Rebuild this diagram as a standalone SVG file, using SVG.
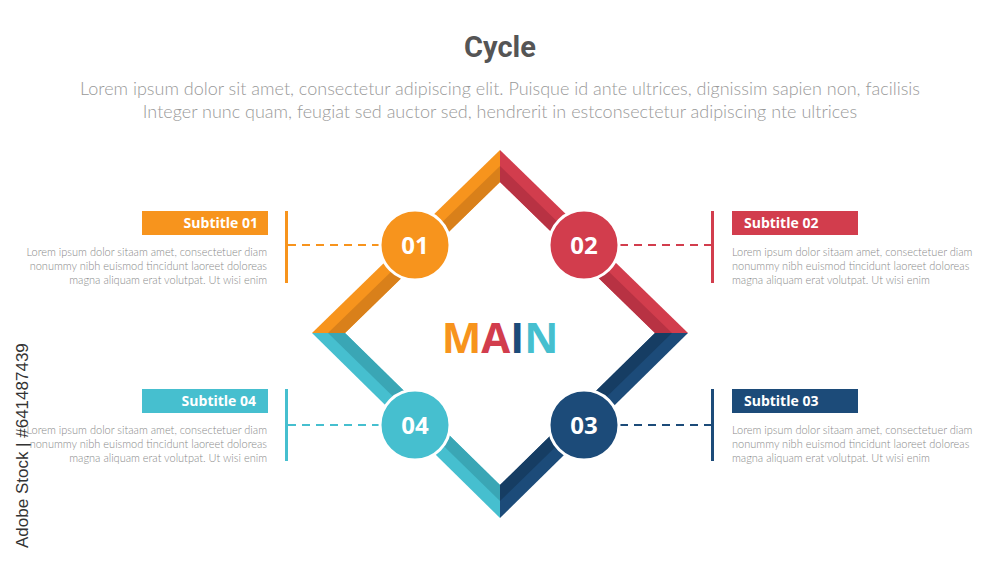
<svg xmlns="http://www.w3.org/2000/svg" width="1000" height="563" viewBox="0 0 1000 563">
<style>
.t{font-family:Lato,"Liberation Sans",sans-serif;font-weight:300}
.body{font-family:Lato,"Liberation Sans",sans-serif;font-weight:300;font-size:11px;fill:#8a8a8a}
.sub{font-family:"Open Sans","Liberation Sans",sans-serif;font-size:14px;font-weight:bold;fill:#fff}
.num{font-family:"Open Sans","Liberation Sans",sans-serif;font-size:24px;font-weight:bold;fill:#fff;text-anchor:middle}
.dash{stroke-width:2;stroke-dasharray:8 6}
</style>
<rect width="1000" height="563" fill="#fff"/>
<text x="500" y="57" text-anchor="middle" font-family="Roboto,'Liberation Sans',sans-serif" font-weight="bold" font-size="29" fill="#555">Cycle</text>
<text class="t" x="500" y="95" text-anchor="middle" font-size="18" fill="#999">Lorem ipsum dolor sit amet, consectetur adipiscing elit. Puisque id ante ultrices, dignissim sapien non, facilisis</text>
<text class="t" x="500" y="118" text-anchor="middle" font-size="18" fill="#999">Integer nunc quam, feugiat sed auctor sed, hendrerit in estconsectetur adipiscing nte ultrices</text>
<text transform="translate(28,548) rotate(-90)" font-family="'Liberation Sans',sans-serif" font-size="17" fill="#333">Adobe Stock | #641487439</text>
<g id="diamond">
<polygon points="312,333 500,150 500,182 345,333" fill="#F7941D"/>
<polygon points="328,333 500,166 500,182 345,333" fill="#D9801A"/>
<polygon points="500,150 688,333 655,333 500,182" fill="#D23D4D"/>
<polygon points="500,166 672,333 655,333 500,182" fill="#B83243"/>
<polygon points="312,333 345,333 500,485 500,518" fill="#46BFCF"/>
<polygon points="328,333 345,333 500,485 500,501" fill="#3AA6B5"/>
<polygon points="688,333 500,518 500,485 655,333" fill="#1C4B79"/>
<polygon points="672,333 500,501 500,485 655,333" fill="#163D63"/>
</g>
<g id="connectors">
<line class="dash" x1="288" y1="245" x2="380" y2="245" stroke="#F7941D"/>
<line class="dash" x1="620" y1="245" x2="712" y2="245" stroke="#D23D4D"/>
<line class="dash" x1="288" y1="425" x2="380" y2="425" stroke="#46BFCF"/>
<line class="dash" x1="620" y1="425" x2="712" y2="425" stroke="#1C4B79"/>
</g>
<g id="node-main"><text x="500" y="353" text-anchor="middle" font-family="'Open Sans','Liberation Sans',sans-serif" font-weight="bold" font-size="42"><tspan fill="#F7941D">M</tspan><tspan fill="#D23D4D">A</tspan><tspan fill="#1C4B79">I</tspan><tspan fill="#46BFCF">N</tspan></text></g>
<g id="node-01">
<circle cx="415" cy="245" r="35" fill="#F7941D" stroke="#fff" stroke-width="3"/><text class="num" x="415" y="254">01</text>
<rect x="285" y="211" width="3" height="72" fill="#F7941D"/>
<rect x="142" y="211" width="126" height="24" fill="#F7941D"/><text class="sub" x="258" y="228" text-anchor="end">Subtitle 01</text>
<text class="body" text-anchor="end"><tspan x="267" y="256">Lorem ipsum dolor sitaam amet, consectetuer diam</tspan><tspan x="267" y="270">nonummy  nibh euismod tincidunt laoreet doloreas</tspan><tspan x="267" y="284">magna aliquam erat volutpat. Ut wisi enim</tspan></text>
</g>
<g id="node-02">
<circle cx="584" cy="245" r="35" fill="#D23D4D" stroke="#fff" stroke-width="3"/><text class="num" x="584" y="254">02</text>
<rect x="711" y="211" width="3" height="72" fill="#D23D4D"/>
<rect x="732" y="211" width="126" height="24" fill="#D23D4D"/><text class="sub" x="744" y="228">Subtitle 02</text>
<text class="body"><tspan x="732" y="256">Lorem ipsum dolor sitaam amet, consectetuer diam</tspan><tspan x="732" y="270">nonummy  nibh euismod tincidunt laoreet doloreas</tspan><tspan x="732" y="284">magna aliquam erat volutpat. Ut wisi enim</tspan></text>
</g>
<g id="node-03">
<circle cx="584" cy="425" r="35" fill="#1C4B79" stroke="#fff" stroke-width="3"/><text class="num" x="584" y="434">03</text>
<rect x="711" y="389" width="3" height="72" fill="#1C4B79"/>
<rect x="732" y="389" width="126" height="24" fill="#1C4B79"/><text class="sub" x="744" y="406">Subtitle 03</text>
<text class="body"><tspan x="732" y="434">Lorem ipsum dolor sitaam amet, consectetuer diam</tspan><tspan x="732" y="448">nonummy  nibh euismod tincidunt laoreet doloreas</tspan><tspan x="732" y="462">magna aliquam erat volutpat. Ut wisi enim</tspan></text>
</g>
<g id="node-04">
<circle cx="415" cy="425" r="35" fill="#46BFCF" stroke="#fff" stroke-width="3"/><text class="num" x="415" y="434">04</text>
<rect x="285" y="389" width="3" height="72" fill="#46BFCF"/>
<rect x="142" y="389" width="126" height="24" fill="#46BFCF"/><text class="sub" x="256" y="406" text-anchor="end">Subtitle 04</text>
<text class="body" text-anchor="end"><tspan x="267" y="434">Lorem ipsum dolor sitaam amet, consectetuer diam</tspan><tspan x="267" y="448">nonummy  nibh euismod tincidunt laoreet doloreas</tspan><tspan x="267" y="462">magna aliquam erat volutpat. Ut wisi enim</tspan></text>
</g>
</svg>
